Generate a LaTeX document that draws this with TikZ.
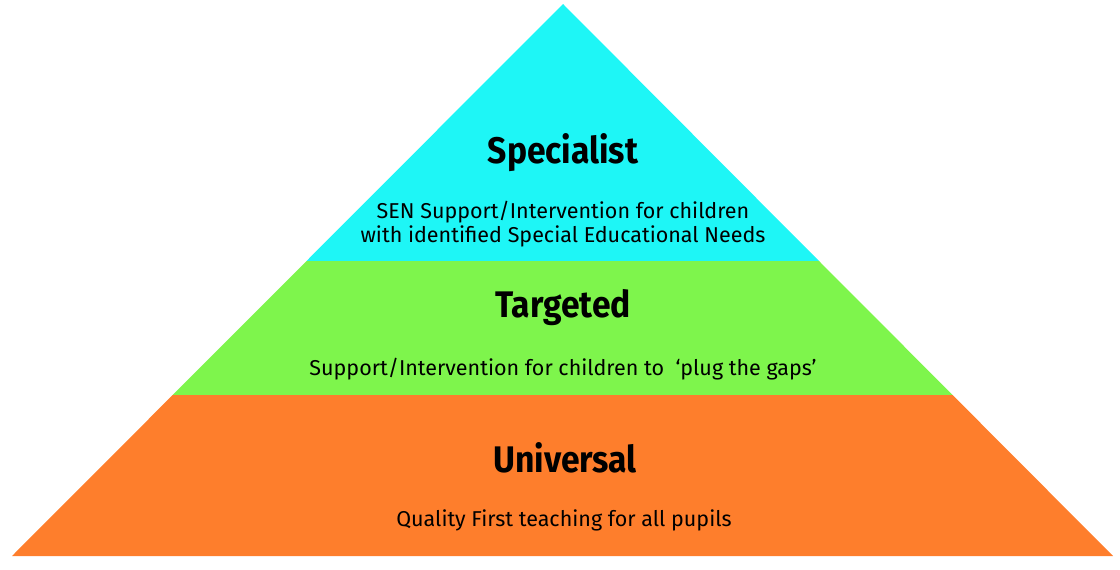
\documentclass[tikz,border=0pt]{standalone}
\usepackage{fontspec}
\setmainfont{Fira Sans}
\newfontfamily\titlefont[FakeStretch=0.91]{Fira Sans}
\definecolor{tiercyan}{RGB}{30,246,246}
\definecolor{tiergreen}{RGB}{126,245,76}
\definecolor{tierorange}{RGB}{254,126,44}
\tikzset{
  tiertitle/.style={anchor=base, inner sep=0pt, font=\titlefont\fontsize{37}{40}\selectfont\bfseries},
  tiertext/.style={anchor=base, inner sep=0pt, font=\fontsize{21.5}{25}\selectfont},
}
\begin{document}
\begin{tikzpicture}[x=1pt,y=-1pt]
\useasboundingbox (0,0) rectangle (1120,570);
\coordinate (apex) at (563,4);
\coordinate (l1) at (306.5,261);
\coordinate (r1) at (819,261);
\coordinate (l2) at (172.7,395);
\coordinate (r2) at (952.6,395);
\coordinate (bl) at (12,556);
\coordinate (br) at (1113,556);
\fill[tiercyan] (apex) -- (l1) -- (r1) -- cycle;
\fill[tiergreen] (l1) -- (l2) -- (r2) -- (r1) -- cycle;
\fill[tierorange] (l2) -- (bl) -- (br) -- (r2) -- cycle;
\node[tiertitle] (spec) at (563,163) {Specialist};
\node[tiertext] (spec1) at (563,218) {SEN Support/Intervention for children};
\node[tiertext] (spec2) at (563,242) {with identified Special Educational Needs};
\node[tiertitle] (targ) at (563,317) {Targeted};
\node[tiertext] (targ1) at (563,375) {Support/Intervention for children to\ \ ‘plug the gaps’};
\node[tiertitle] (univ) at (565,472) {Universal};
\node[tiertext] (univ1) at (564,526) {Quality First teaching for all pupils};
\end{tikzpicture}
\end{document}
